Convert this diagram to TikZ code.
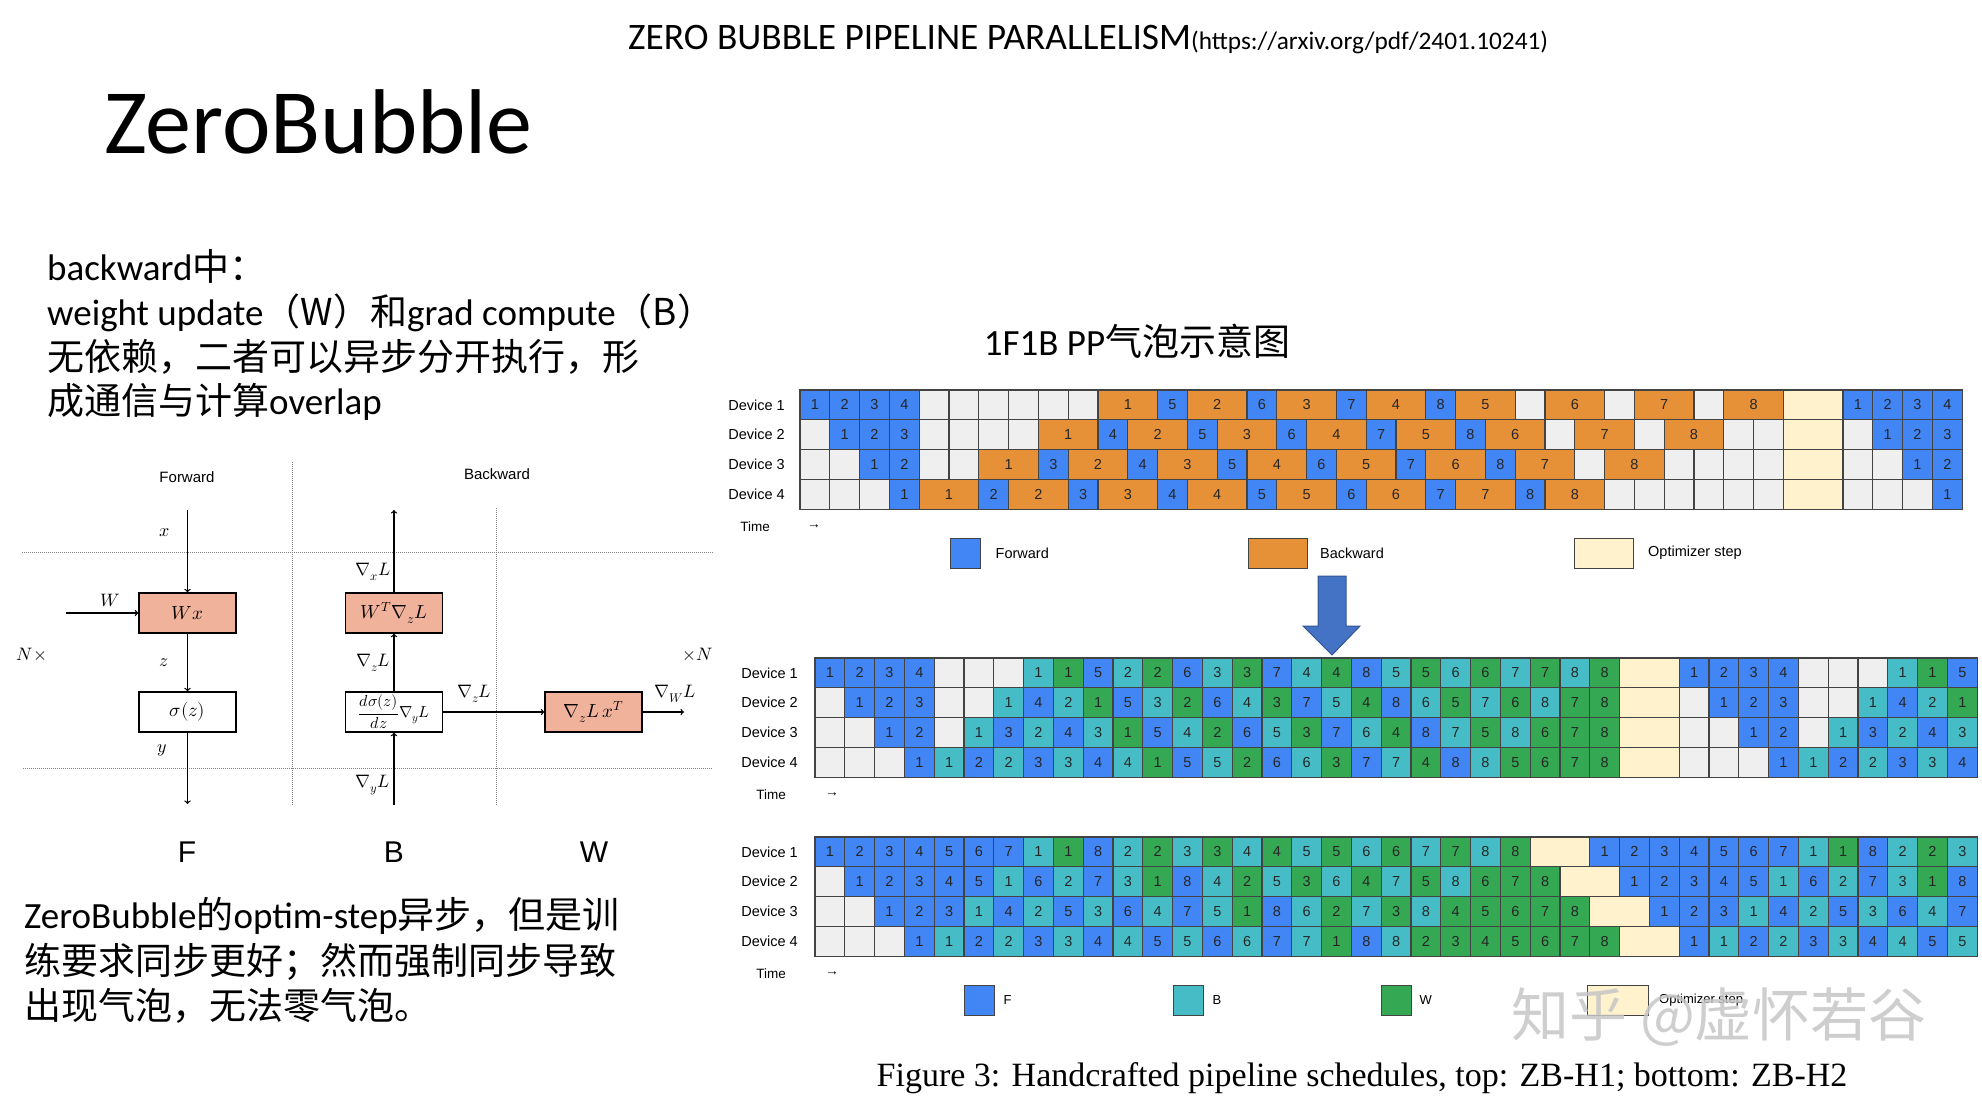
\documentclass[tikz,border=0pt]{standalone}
\usepackage{fontspec}
\usepackage{unicode-math}
\usetikzlibrary{positioning}
\setmainfont{Carlito}
\newfontfamily\cjkfont{Noto Sans CJK SC}
\newfontfamily\arialfont{Liberation Sans}
\newfontfamily\capfont{Liberation Serif}
\newcommand\fsz[1]{\fontsize{#1}{#1}\selectfont}

\definecolor{fwdblue}{RGB}{66,133,244}
\definecolor{bwdorange}{RGB}{230,145,56}
\definecolor{bteal}{RGB}{70,189,198}
\definecolor{wgreen}{RGB}{52,168,83}
\definecolor{optcream}{RGB}{255,242,204}
\definecolor{idlegray}{RGB}{239,239,239}
\definecolor{gridline}{RGB}{67,67,67}
\definecolor{salmon}{RGB}{241,178,155}
\definecolor{arrowblue}{RGB}{68,114,196}

\def\cellw{29.8}
\def\cellh{29.8}

\begin{document}
\begin{tikzpicture}[x=1pt,y=-1pt,>=to]
    \tikzstyle{cell}=[draw=gridline, line width=1.3pt, minimum width=\cellw, minimum height=\cellh,
                      inner sep=0pt, outer sep=0pt, anchor=north west, text=black!85, font=\arialfont\fsz{14.5}]
    \tikzstyle{idle}=[cell, fill=idlegray]
    \tikzstyle{fwd}=[cell, fill=fwdblue]
    \tikzstyle{bwd}=[cell, fill=bwdorange, minimum width=2*\cellw]
    \tikzstyle{bgrad}=[cell, fill=bteal]
    \tikzstyle{wgrad}=[cell, fill=wgreen]
    \tikzstyle{optim}=[cell, fill=optcream, minimum width=2*\cellw]
    \tikzstyle{device}=[anchor=east, inner sep=0pt, font=\arialfont\fsz{14.5}]
    \tikzstyle{timelbl}=[inner sep=0pt, font=\arialfont\fsz{13.5}]
    \tikzstyle{swatch}=[draw=gridline, line width=1pt, minimum width=30, minimum height=30, inner sep=0pt]
    \tikzstyle{legtext}=[anchor=west, inner sep=0pt, font=\arialfont\fsz{14.5}]
    \tikzstyle{op}=[draw, line width=1.3pt, minimum width=97, minimum height=40, inner sep=0pt, font=\fsz{19}]
    \tikzstyle{weightop}=[op, fill=salmon]
    \tikzstyle{flow}=[->, line width=1.3pt]
    \tikzstyle{guide}=[densely dotted, gray, line width=1pt]
    \tikzstyle{mlabel}=[inner sep=0pt, font=\fsz{18}]
    \tikzstyle{head}=[inner sep=0pt, font=\arialfont\fsz{15}]
    \tikzstyle{phase}=[inner sep=0pt, font=\arialfont\fsz{30}]
    \tikzstyle{body}=[anchor=base west, inner sep=0pt, font=\fsz{37}]

    \useasboundingbox (0,0) rectangle (1982,1102);

    % Titles and notes
    \node[anchor=base west, inner sep=0pt] (title) at (628,50)
        {\fsz{37.4}ZERO BUBBLE PIPELINE PARALLELISM{\fsz{25.3}(https://arxiv.org/pdf/2401.10241)}};
    \node[anchor=base west, inner sep=0pt] (heading) at (104,154) {\fsz{92}ZeroBubble};
    \node[body] (note-1) at (47,280) {backward{\cjkfont 中：}};
    \node[body] (note-2) at (47,325) {weight update{\cjkfont （W）和}grad compute{\cjkfont （B）}};
    \node[body] (note-3) at (47,370) {\cjkfont 无依赖，二者可以异步分开执行，形};
    \node[body] (note-4) at (47,414) {{\cjkfont 成通信与计算}overlap};
    \node[body] (remark-1) at (24,928) {ZeroBubble{\cjkfont 的}optim-step{\cjkfont 异步，但是训}};
    \node[body] (remark-2) at (24,974) {\cjkfont 练要求同步更好；然而强制同步导致};
    \node[body] (remark-3) at (24,1019) {\cjkfont 出现气泡，无法零气泡。};
    \node[body, anchor=base] (pp-title) at (1137,355) {1F1B PP{\cjkfont 气泡示意图}};

    % Draw the guide lines of the F/B/W sketch
    \draw[guide] (292,462) -- (292,805);
    \draw[guide] (496,508) -- (496,805);
    \draw[guide] (22,552) -- (713,552);
    \draw[guide] (23,768) -- (713,768);

    \node[head] (fwd-head) at (187,477) {Forward};
    \node[head] (bwd-head) at (497,474) {Backward};

    % Forward column
    \node[weightop] (wx) at (187.5,613) {$W x$};
    \node[op, below of=wx, node distance=99pt] (sig) {$\sigma(z)$};
    \coordinate (xin) at (187.5,510);
    \coordinate (win) at (66,613);
    \coordinate (yout) at (187.5,804);
    \draw[flow] (xin) -- (wx);
    \draw[flow] (win) -- (wx);
    \draw[flow] (wx) -- (sig);
    \draw[flow] (sig) -- (yout);

    % Backward columns, B then W
    \node[weightop] (wtg) at (394,613) {$W^{T}\nabla_{z}L$};
    \node[op, below of=wtg, node distance=99pt, font=\fsz{16}] (dsig) {$\displaystyle\frac{d\sigma(z)}{dz}\nabla_{y}L$};
    \node[weightop, right of=dsig, node distance=199.5pt] (wgr) {$\nabla_{z}L\,x^{T}$};
    \coordinate (gxout) at (394,510);
    \coordinate (gyin) at (394,805);
    \coordinate (gwout) at (684,712);
    \draw[flow] (gyin) -- (dsig);
    \draw[flow] (dsig) -- (wtg);
    \draw[flow] (wtg) -- (gxout);
    \draw[flow] (dsig) -- (wgr);
    \draw[flow] (wgr) -- (gwout);

    % Annotate the arrows
    \node[mlabel] (lx) at (165,533) {$x$};
    \node[mlabel] (lw) at (110,601) {$W$};
    \node[mlabel] (lz) at (164,663) {$z$};
    \node[mlabel] (ly) at (162,750) {$y$};
    \node[mlabel] (lnl) at (32,654) {$N\times$};
    \node[mlabel] (lgx) at (373,572) {$\nabla_{x}L$};
    \node[mlabel] (lgz) at (373,663) {$\nabla_{z}L$};
    \node[mlabel] (lgy) at (373,785) {$\nabla_{y}L$};
    \node[mlabel] (lgzw) at (474,694) {$\nabla_{z}L$};
    \node[mlabel] (lgw) at (675,694) {$\nabla_{W}L$};
    \node[mlabel] (lnr) at (698,654) {$\times N$};
    \node[phase] (ph-f) at (187,852) {F};
    \node[phase] (ph-b) at (394,852) {B};
    \node[phase] (ph-w) at (594,852) {W};

    % Draw the 1F1B schedule: idle slots first, then the work
    \foreach \r in {0,...,3}
        \foreach \i in {0,...,38}
            \node[idle] (ppbg-\r-\i) at (800+\i*\cellw, 390+\r*\cellh) {};
    \foreach \r/\row in {
        0/{fwd/0/1,fwd/1/2,fwd/2/3,fwd/3/4,bwd/10/1,fwd/12/5,bwd/13/2,fwd/15/6,bwd/16/3,fwd/18/7,bwd/19/4,
           fwd/21/8,bwd/22/5,bwd/25/6,bwd/28/7,bwd/31/8,optim/33/{},fwd/35/1,fwd/36/2,fwd/37/3,fwd/38/4},
        1/{fwd/1/1,fwd/2/2,fwd/3/3,bwd/8/1,fwd/10/4,bwd/11/2,fwd/13/5,bwd/14/3,fwd/16/6,bwd/17/4,fwd/19/7,
           bwd/20/5,fwd/22/8,bwd/23/6,bwd/26/7,bwd/29/8,optim/33/{},fwd/36/1,fwd/37/2,fwd/38/3},
        2/{fwd/2/1,fwd/3/2,bwd/6/1,fwd/8/3,bwd/9/2,fwd/11/4,bwd/12/3,fwd/14/5,bwd/15/4,fwd/17/6,bwd/18/5,
           fwd/20/7,bwd/21/6,fwd/23/8,bwd/24/7,bwd/27/8,optim/33/{},fwd/37/1,fwd/38/2},
        3/{fwd/3/1,bwd/4/1,fwd/6/2,bwd/7/2,fwd/9/3,bwd/10/3,fwd/12/4,bwd/13/4,fwd/15/5,bwd/16/5,fwd/18/6,
           bwd/19/6,fwd/21/7,bwd/22/7,fwd/24/8,bwd/25/8,optim/33/{},fwd/38/1}}
        \foreach \t/\s/\l in \row
            \node[\t] (pp-\r-\s) at (800+\s*\cellw, 390+\r*\cellh) {\l};
    \foreach \r in {1,...,4}
        \node[device] (pp-dev-\r) at (785, 390+\r*\cellh-0.5*\cellh) {Device \r};
    \node[timelbl] (pp-time) at (755,527) {Time};
    \node[timelbl] (pp-arrow) at (814,527) {→};

    % Legend of the 1F1B schedule
    \node[swatch, fill=fwdblue] (lg-fwd) at (965,553) {};
    \node[legtext, right=15pt of lg-fwd] {Forward};
    \node[swatch, fill=bwdorange, minimum width=59] (lg-bwd) at (1278,553) {};
    \node[legtext, right=12pt of lg-bwd] {Backward};
    \node[swatch, fill=optcream, minimum width=59] (lg-opt) at (1604,553) {};
    \node[legtext, right=14pt of lg-opt] {Optimizer step};

    % Block arrow down to the zero bubble schedules
    \filldraw[fill=arrowblue, draw=arrowblue!75!black, line width=1pt]
        (1318,576) -- (1346,576) -- (1346,626) -- (1360,626) -- (1332,655) -- (1303,626) -- (1318,626) -- cycle;

    % Draw the ZB-H1 schedule
    \foreach \r in {0,...,3}
        \foreach \i in {0,...,38}
            \node[idle] (zabg-\r-\i) at (815+\i*\cellw, 658+\r*\cellh) {};
    \foreach \r/\row in {
        0/{fwd/0/1,fwd/1/2,fwd/2/3,fwd/3/4,bgrad/7/1,wgrad/8/1,fwd/9/5,bgrad/10/2,wgrad/11/2,fwd/12/6,bgrad/13/3,
           wgrad/14/3,fwd/15/7,bgrad/16/4,wgrad/17/4,fwd/18/8,bgrad/19/5,wgrad/20/5,bgrad/21/6,wgrad/22/6,
           bgrad/23/7,wgrad/24/7,bgrad/25/8,wgrad/26/8,optim/27/{},fwd/29/1,fwd/30/2,fwd/31/3,fwd/32/4,
           bgrad/36/1,wgrad/37/1,fwd/38/5},
        1/{fwd/1/1,fwd/2/2,fwd/3/3,bgrad/6/1,fwd/7/4,bgrad/8/2,wgrad/9/1,fwd/10/5,bgrad/11/3,wgrad/12/2,fwd/13/6,
           bgrad/14/4,wgrad/15/3,fwd/16/7,bgrad/17/5,wgrad/18/4,fwd/19/8,bgrad/20/6,wgrad/21/5,bgrad/22/7,
           wgrad/23/6,bgrad/24/8,wgrad/25/7,wgrad/26/8,optim/27/{},fwd/30/1,fwd/31/2,fwd/32/3,bgrad/35/1,
           fwd/36/4,bgrad/37/2,wgrad/38/1},
        2/{fwd/2/1,fwd/3/2,bgrad/5/1,fwd/6/3,bgrad/7/2,fwd/8/4,bgrad/9/3,wgrad/10/1,fwd/11/5,bgrad/12/4,wgrad/13/2,
           fwd/14/6,bgrad/15/5,wgrad/16/3,fwd/17/7,bgrad/18/6,wgrad/19/4,fwd/20/8,bgrad/21/7,wgrad/22/5,
           bgrad/23/8,wgrad/24/6,wgrad/25/7,wgrad/26/8,optim/27/{},fwd/31/1,fwd/32/2,bgrad/34/1,fwd/35/3,
           bgrad/36/2,fwd/37/4,bgrad/38/3},
        3/{fwd/3/1,bgrad/4/1,fwd/5/2,bgrad/6/2,fwd/7/3,bgrad/8/3,fwd/9/4,bgrad/10/4,wgrad/11/1,fwd/12/5,bgrad/13/5,
           wgrad/14/2,fwd/15/6,bgrad/16/6,wgrad/17/3,fwd/18/7,bgrad/19/7,wgrad/20/4,fwd/21/8,bgrad/22/8,
           wgrad/23/5,wgrad/24/6,wgrad/25/7,wgrad/26/8,optim/27/{},fwd/32/1,bgrad/33/1,fwd/34/2,bgrad/35/2,
           fwd/36/3,bgrad/37/3,fwd/38/4}}
        \foreach \t/\s/\l in \row
            \node[\t] (za-\r-\s) at (815+\s*\cellw, 658+\r*\cellh) {\l};
    \foreach \r in {1,...,4}
        \node[device] (za-dev-\r) at (798, 658+\r*\cellh-0.5*\cellh) {Device \r};
    \node[timelbl] (za-time) at (771,795) {Time};
    \node[timelbl] (za-arrow) at (832,795) {→};

    % Draw the ZB-H2 schedule
    \foreach \r in {0,...,3}
        \foreach \i in {0,...,38}
            \node[idle] (zbbg-\r-\i) at (815+\i*\cellw, 837+\r*\cellh) {};
    \foreach \r/\row in {
        0/{fwd/0/1,fwd/1/2,fwd/2/3,fwd/3/4,fwd/4/5,fwd/5/6,fwd/6/7,bgrad/7/1,wgrad/8/1,fwd/9/8,bgrad/10/2,
           wgrad/11/2,bgrad/12/3,wgrad/13/3,bgrad/14/4,wgrad/15/4,bgrad/16/5,wgrad/17/5,bgrad/18/6,wgrad/19/6,
           bgrad/20/7,wgrad/21/7,bgrad/22/8,wgrad/23/8,optim/24/{},fwd/26/1,fwd/27/2,fwd/28/3,fwd/29/4,
           fwd/30/5,fwd/31/6,fwd/32/7,bgrad/33/1,wgrad/34/1,fwd/35/8,bgrad/36/2,wgrad/37/2,bgrad/38/3},
        1/{fwd/1/1,fwd/2/2,fwd/3/3,fwd/4/4,fwd/5/5,bgrad/6/1,fwd/7/6,bgrad/8/2,fwd/9/7,bgrad/10/3,wgrad/11/1,
           fwd/12/8,bgrad/13/4,wgrad/14/2,bgrad/15/5,wgrad/16/3,bgrad/17/6,wgrad/18/4,bgrad/19/7,wgrad/20/5,
           bgrad/21/8,wgrad/22/6,wgrad/23/7,wgrad/24/8,optim/25/{},fwd/27/1,fwd/28/2,fwd/29/3,fwd/30/4,
           fwd/31/5,bgrad/32/1,fwd/33/6,bgrad/34/2,fwd/35/7,bgrad/36/3,wgrad/37/1,fwd/38/8},
        2/{fwd/2/1,fwd/3/2,fwd/4/3,bgrad/5/1,fwd/6/4,bgrad/7/2,fwd/8/5,bgrad/9/3,fwd/10/6,bgrad/11/4,fwd/12/7,
           bgrad/13/5,wgrad/14/1,fwd/15/8,bgrad/16/6,wgrad/17/2,bgrad/18/7,wgrad/19/3,bgrad/20/8,wgrad/21/4,
           wgrad/22/5,wgrad/23/6,wgrad/24/7,wgrad/25/8,optim/26/{},fwd/28/1,fwd/29/2,fwd/30/3,bgrad/31/1,
           fwd/32/4,bgrad/33/2,fwd/34/5,bgrad/35/3,fwd/36/6,bgrad/37/4,fwd/38/7},
        3/{fwd/3/1,bgrad/4/1,fwd/5/2,bgrad/6/2,fwd/7/3,bgrad/8/3,fwd/9/4,bgrad/10/4,fwd/11/5,bgrad/12/5,fwd/13/6,
           bgrad/14/6,fwd/15/7,bgrad/16/7,wgrad/17/1,fwd/18/8,bgrad/19/8,wgrad/20/2,wgrad/21/3,wgrad/22/4,
           wgrad/23/5,wgrad/24/6,wgrad/25/7,wgrad/26/8,optim/27/{},fwd/29/1,bgrad/30/1,fwd/31/2,bgrad/32/2,
           fwd/33/3,bgrad/34/3,fwd/35/4,bgrad/36/4,fwd/37/5,bgrad/38/5}}
        \foreach \t/\s/\l in \row
            \node[\t] (zb-\r-\s) at (815+\s*\cellw, 837+\r*\cellh) {\l};
    \foreach \r in {1,...,4}
        \node[device] (zb-dev-\r) at (798, 837+\r*\cellh-0.5*\cellh) {Device \r};
    \node[timelbl] (zb-time) at (771,974) {Time};
    \node[timelbl] (zb-arrow) at (832,974) {→};

    % Legend of the zero bubble schedules
    \node[swatch, fill=fwdblue] (lz-f) at (979,1000) {};
    \node[legtext, font=\arialfont\fsz{13}, right=9pt of lz-f] {F};
    \node[swatch, fill=bteal] (lz-b) at (1188,1000) {};
    \node[legtext, font=\arialfont\fsz{13}, right=9pt of lz-b] {B};
    \node[swatch, fill=wgreen] (lz-w) at (1396,1000) {};
    \node[legtext, font=\arialfont\fsz{13}, right=8pt of lz-w] {W};
    \node[swatch, fill=optcream, minimum width=61] (lz-opt) at (1618,1000) {};
    \node[legtext, font=\arialfont\fsz{13}, right=10pt of lz-opt] {Optimizer step};

    % Caption and watermark
    \node[inner sep=0pt, font=\capfont\fsz{34}] (caption) at (1362,1078)
        {Figure 3: Handcrafted pipeline schedules, top: ZB-H1; bottom: ZB-H2};
    \node[inner sep=0pt, font=\cjkfont\fsz{58}, text=gray!45, opacity=0.85] (mark) at (1719,1017) {知乎 @虚怀若谷};
\end{tikzpicture}
\end{document}
